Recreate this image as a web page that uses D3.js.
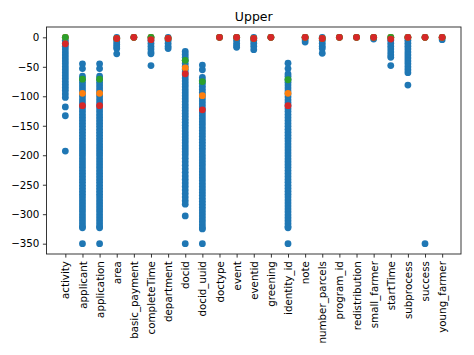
<!DOCTYPE html>
<html>
<head>
<meta charset="utf-8">
<script src="https://cdn.jsdelivr.net/npm/d3@7"></script>
<style>
html,body{margin:0;padding:0;background:#fff;}
svg{display:block;}
text{font-family:"DejaVu Sans",sans-serif;fill:#000;}
</style>
</head>
<body>
<svg id="chart" width="474" height="355"></svg>
<script>
const categories = ["activity","applicant","application","area","basic_payment","completeTime","department","docid","docid_uuid","doctype","event","eventid","greening","identity_id","note","number_parcels","program_id","redistribution","small_farmer","startTime","subprocess","success","young_farmer"];

const yTicks = [0,-50,-100,-150,-200,-250,-300,-350];

const longColumn = [-66,-71,-76,-81,-86,-91,-96,-101,-106,-111,-116,-121,-126,-131,-136,-141,-146,-151,-156,-161,-166,-171,-176,-181,-186,-191,-196,-201,-206,-211,-216,-221,-226,-231,-236,-241,-246,-251,-256,-261,-266,-271,-276,-281,-286,-291,-296,-301,-306,-311,-316,-321,-323];

const blueActivity = [0,-5,-10,-15,-20,-25,-30,-35,-40,-45,-50,-55,-60,-65,-70,-75,-80,-85,-90,-96,-102,-118,-133,-193];
const blueApplicant = [-45,-53].concat(longColumn,[-350]);
const blueApplication = [-45,-53].concat(longColumn,[-350]);
const blueDocid = [-24,-29,-34,-39,-44,-49,-54,-59,-64,-69,-74,-79,-84,-89,-94,-99,-104,-109,-114,-119,-124,-129,-134,-139,-144,-149,-154,-159,-164,-169,-174,-179,-184,-189,-194,-199,-205,-211,-217,-223,-229,-235,-241,-247,-253,-259,-265,-271,-277,-283,-303,-350];
const blueDocidUuid = [-47,-55,-68,-73,-78,-83,-88,-93,-98,-103,-108,-113,-118,-123,-128,-133,-138,-143,-148,-153,-158,-163,-168,-173,-178,-183,-188,-193,-198,-203,-208,-213,-218,-223,-228,-233,-238,-243,-248,-253,-258,-263,-268,-273,-278,-283,-288,-293,-298,-303,-308,-313,-318,-323,-325,-350];
const blueIdentity = [-44,-53,-62].concat(longColumn,[-350]);

const blueValues = [
  blueActivity,
  blueApplicant,
  blueApplication,
  [0,-4,-8,-12,-16,-19,-28],
  [0],
  [0,-5,-10,-15,-20,-25,-28,-48],
  [0,-5,-10,-15,-19],
  blueDocid,
  blueDocidUuid,
  [0],
  [0,-5,-10,-14,-17],
  [0,-5,-10,-15,-21],
  [0],
  blueIdentity,
  [0,-4,-8],
  [0,-5,-10,-15,-19,-27],
  [0],
  [0],
  [0,-3],
  [0,-5,-10,-15,-20,-25,-30,-34,-48],
  [0,-5,-10,-15,-20,-25,-30,-35,-40,-45,-50,-55,-60,-81],
  [0,-350],
  [0,-4]
];

const orangeValues = [0,-95,-95,-2,0,0,-2,-52,-99,0,0,-2,0,-95,0,-2,0,0,0,0,0,0,0];
const greenValues  = [0,-71,-71,-2,0,0,-2,-39,-75,0,0,-2,0,-72,0,-2,0,0,0,0,0,0,0];
const redValues    = [-11,-116,-116,-2,0,-4,-2,-62,-123,0,0,-2,0,-116,0,-2,0,0,0,-3,0,0,0];

const colors = {blue:"#1f77b4", orange:"#ff7f0e", green:"#2ca02c", red:"#d62728"};

const svg = d3.select("#chart");
const L = 46.5, R = 461, T = 27, B = 254;

const x = d3.scaleLinear().domain([-1.1, categories.length - 1 + 1.1]).range([L, R]);
const y = d3.scaleLinear().domain([-367.5, 17.5]).range([B, T]);

const plot = svg.append("g");
const r = 3.4;

categories.forEach((c, i) => {
  plot.selectAll(null).data(blueValues[i]).enter().append("circle")
    .attr("cx", x(i)).attr("cy", d => y(d)).attr("r", r)
    .attr("fill", colors.blue);
});
[["orange", orangeValues], ["green", greenValues], ["red", redValues]].forEach(([k, vals]) => {
  plot.selectAll(null).data(vals).enter().append("circle")
    .attr("cx", (d, i) => x(i)).attr("cy", d => y(d)).attr("r", r)
    .attr("fill", colors[k]);
});

const fmt = d => (d < 0 ? "\u2212" + Math.abs(d) : String(d));
const yAxis = svg.append("g").attr("transform", `translate(${L},0)`)
  .call(d3.axisLeft(y).tickValues(yTicks).tickFormat(fmt).tickSize(3.6).tickPadding(3.5));
const xAxis = svg.append("g").attr("transform", `translate(0,${B})`)
  .call(d3.axisBottom(x).tickValues(d3.range(categories.length)).tickFormat(i => categories[i]).tickSize(3.6).tickPadding(3.5));

[yAxis, xAxis].forEach(g => {
  g.select(".domain").remove();
  g.selectAll(".tick line").attr("stroke", "#000").attr("stroke-width", 0.8);
  g.selectAll(".tick text").style("font-size", "10.3px").style("font-family", "DejaVu Sans, sans-serif");
});

xAxis.selectAll(".tick text")
  .attr("transform", "rotate(-90)")
  .attr("text-anchor", "end")
  .attr("x", -7.1)
  .attr("y", 0)
  .attr("dy", "0.35em");

svg.append("rect").attr("x", L).attr("y", T).attr("width", R - L).attr("height", B - T)
  .attr("fill", "none").attr("stroke", "#222").attr("stroke-width", 0.9);

svg.append("text").attr("x", (L + R) / 2).attr("y", 21).attr("text-anchor", "middle")
  .style("font-size", "12.5px").text("Upper");
</script>
</body>
</html>
